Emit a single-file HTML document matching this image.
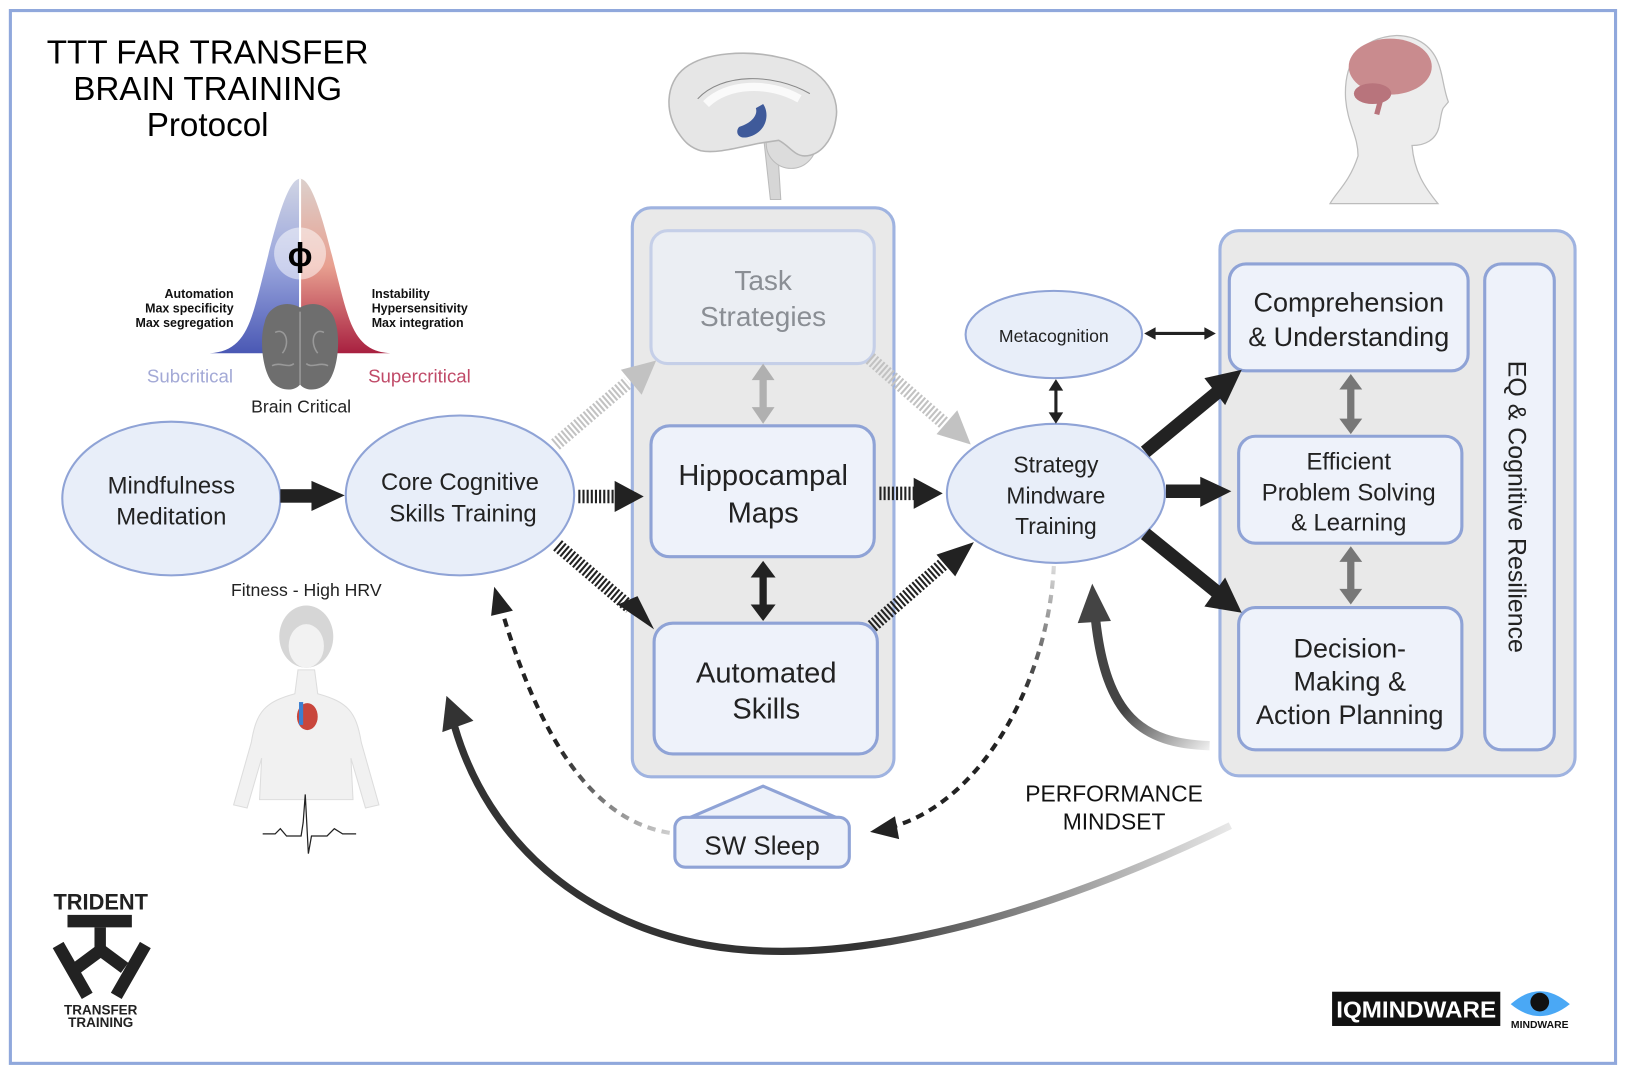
<!DOCTYPE html>
<html><head><meta charset="utf-8"><style>
html,body{margin:0;padding:0;background:#fff;}
svg{display:block;}
text{font-family:"Liberation Sans","DejaVu Sans",sans-serif;}
</style></head><body>
<svg width="1628" height="1076" viewBox="0 0 1568 1036" xmlns="http://www.w3.org/2000/svg">
<defs>
<linearGradient id="bl" x1="0" y1="0" x2="0" y2="1"><stop offset="0" stop-color="#d0d4e4"/><stop offset="0.5" stop-color="#98a4dc"/><stop offset="1" stop-color="#4a58b4"/></linearGradient>
<linearGradient id="rd" x1="0" y1="0" x2="0" y2="1"><stop offset="0" stop-color="#dcd0cc"/><stop offset="0.5" stop-color="#e8a090"/><stop offset="1" stop-color="#a82040"/></linearGradient>
<linearGradient id="cv1" gradientUnits="userSpaceOnUse" x1="1185" y1="795" x2="430" y2="700"><stop offset="0" stop-color="#e8e8e8"/><stop offset="0.45" stop-color="#333"/><stop offset="1" stop-color="#333"/></linearGradient>
<linearGradient id="cv2" gradientUnits="userSpaceOnUse" x1="1165" y1="720" x2="1050" y2="600"><stop offset="0" stop-color="#eee"/><stop offset="0.5" stop-color="#444"/><stop offset="1" stop-color="#444"/></linearGradient>
<linearGradient id="dsh" gradientUnits="userSpaceOnUse" x1="645" y1="800" x2="475" y2="600"><stop offset="0" stop-color="#ccc"/><stop offset="0.5" stop-color="#222"/></linearGradient>
<linearGradient id="dsh2" gradientUnits="userSpaceOnUse" x1="1017" y1="545" x2="840" y2="800"><stop offset="0" stop-color="#ddd"/><stop offset="0.4" stop-color="#222"/></linearGradient>
</defs>
<rect x="10" y="10" width="1546" height="1014" fill="#fff" stroke="#90a8dc" stroke-width="3"/>

<g font-size="32" text-anchor="middle" fill="#000">
<text x="200" y="61">TTT FAR TRANSFER</text>
<text x="200" y="96">BRAIN TRAINING</text>
<text x="200" y="131">Protocol</text>
</g>

<!-- bell curve -->
<path d="M202,340 C225,339 236,326 244,300 C256,262 272,172 289,172 L289,340 Z" fill="url(#bl)"/>
<path d="M376,340 C353,339 342,326 334,300 C322,262 306,172 289,172 L289,340 Z" fill="url(#rd)"/>
<line x1="289" y1="172" x2="289" y2="340" stroke="#fff" stroke-width="2"/>
<circle cx="289" cy="244" r="25" fill="#fff" opacity="0.5"/>
<text x="289" y="256" font-size="32" text-anchor="middle" font-weight="bold">ϕ</text>
<path d="M289,296 C275,288 258,295 255,310 C250,325 252,355 262,368 C272,378 285,376 289,370 C293,376 306,378 316,368 C326,355 328,325 323,310 C320,295 303,288 289,296 Z" fill="#6e6e6e"/>
<path d="M289,300 L289,370 M265,320 C275,315 280,330 272,340 M312,320 C302,315 298,330 306,340 M262,352 C270,348 278,355 283,350 M316,352 C308,348 300,355 295,350" stroke="#999" stroke-width="1.5" fill="none"/>
<g font-size="12" font-weight="bold" fill="#111">
<text x="225" y="287" text-anchor="end">Automation</text>
<text x="225" y="301" text-anchor="end">Max specificity</text>
<text x="225" y="315" text-anchor="end">Max segregation</text>
<text x="358" y="287">Instability</text>
<text x="358" y="301">Hypersensitivity</text>
<text x="358" y="315">Max integration</text>
</g>
<text x="183" y="368" font-size="18" text-anchor="middle" fill="#a3a9d6">Subcritical</text>
<text x="404" y="368" font-size="18" text-anchor="middle" fill="#c04a68">Supercritical</text>
<text x="290" y="397" font-size="17" text-anchor="middle" fill="#222">Brain Critical</text>

<!-- top brain -->
<path d="M735,128 L742,192 L752,192 L748,128 Z" fill="#d6d6d6" stroke="#bbb"/>
<circle cx="762" cy="138" r="24" fill="#dcdcdc" stroke="#bbb"/>
<path d="M655,130 C640,110 640,80 660,65 C680,50 720,48 750,55 C790,62 810,90 805,115 C802,135 790,150 775,150 C765,150 760,140 750,135 L730,138 C710,142 690,148 675,145 C665,142 660,137 655,130 Z" fill="#e6e6e6" stroke="#b5b5b5" stroke-width="1.5"/>
<path d="M680,100 C700,80 740,78 770,95" stroke="#fafafa" stroke-width="8" fill="none"/>
<path d="M672,95 C695,70 745,70 780,90" stroke="#888" stroke-width="1" fill="none"/>
<path d="M735,100 C742,110 738,128 720,132 C710,134 708,126 712,122 C725,118 730,110 728,104 Z" fill="#3f5a9a"/>

<!-- head -->
<path d="M1345,34 C1310,36 1294,60 1296,95 C1298,120 1308,130 1308,150 C1300,175 1287,185 1281,196 L1385,196 C1372,180 1362,165 1360,140 C1372,140 1383,135 1386,122 C1388,112 1388,108 1390,104 L1395,98 C1390,85 1390,72 1385,60 C1378,42 1362,34 1345,34 Z" fill="#ededed" stroke="#bcbcbc" stroke-width="1.2"/>
<ellipse cx="1339" cy="64" rx="40" ry="27" fill="#c98b8e"/>
<ellipse cx="1322" cy="90" rx="18" ry="10" fill="#b8747c"/>
<path d="M1330,95 L1326,110" stroke="#b8747c" stroke-width="5"/>

<!-- woman -->
<ellipse cx="295" cy="613" rx="26" ry="30" fill="#d6d6d6"/>
<ellipse cx="295" cy="622" rx="17" ry="21" fill="#f2f2f2"/>
<path d="M287,645 L303,645 L306,668 C335,676 343,685 348,715 L365,775 L352,778 L338,730 L340,770 L250,770 L252,730 L238,778 L225,775 L242,715 C247,685 255,676 284,668 Z" fill="#f1f1f1" stroke="#ddd"/>
<ellipse cx="296" cy="690" rx="10" ry="13" fill="#c9463c"/>
<rect x="288" y="676" width="4" height="22" fill="#3d7fd0"/>
<path d="M253,803 L265,803 L270,798 L276,805 L290,805 L292,792 L294,765 L297,822 L300,805 L315,805 L322,798 L330,803 L343,803" stroke="#222" stroke-width="1.2" fill="none"/>
<text x="295" y="574" font-size="17" text-anchor="middle" fill="#222">Fitness - High HRV</text>

<!-- trident logo -->
<text x="97" y="876" font-size="21" font-weight="bold" text-anchor="middle" fill="#222">TRIDENT</text>
<rect x="65" y="881" width="62" height="12" fill="#222"/>
<rect x="91" y="893" width="11" height="24" fill="#222"/>
<path d="M97,915 L74,932 M97,915 L120,932" stroke="#222" stroke-width="12"/>
<path d="M56,910 L84,959 M140,910 L112,959" stroke="#222" stroke-width="12"/>
<text x="97" y="977" font-size="13" font-weight="bold" text-anchor="middle" fill="#222">TRANSFER</text>
<text x="97" y="989" font-size="13" font-weight="bold" text-anchor="middle" fill="#222">TRAINING</text>

<!-- IQ logo -->
<rect x="1283" y="955" width="162" height="33" fill="#111"/>
<text x="1287" y="980" font-size="22" font-weight="bold" fill="#fff" textLength="154" lengthAdjust="spacingAndGlyphs">IQMINDWARE</text>
<path d="M1455,967 Q1483,942 1512,967 Q1483,990 1455,967 Z" fill="#4aa8f5"/>
<circle cx="1483" cy="965" r="9" fill="#111"/>
<text x="1483" y="990" font-size="10" font-weight="bold" text-anchor="middle" fill="#111">MINDWARE</text>

<!-- containers -->
<rect x="609" y="200" width="252" height="548" rx="18" fill="#e9e9e9" stroke="#9fb3e0" stroke-width="3"/>
<rect x="1175" y="222" width="342" height="525" rx="18" fill="#e9e9e9" stroke="#9fb3e0" stroke-width="3"/>

<g stroke="#8fa3d6" stroke-width="3" fill="#eef2fa">
<rect x="627" y="222" width="215" height="128" rx="16" fill="#ebeef3" stroke="#c5cfe8"/>
<rect x="627" y="410" width="215" height="126" rx="18"/>
<rect x="630" y="600" width="215" height="126" rx="18"/>
<rect x="1184" y="254" width="230" height="103" rx="16"/>
<rect x="1193" y="420" width="215" height="103" rx="16"/>
<rect x="1193" y="585" width="215" height="137" rx="16"/>
<rect x="1430" y="254" width="67" height="468" rx="16"/>
<path d="M665,787 L735,757 L805,787 Z"/>
<rect x="650" y="787" width="168" height="48" rx="10"/>
</g>
<g stroke="#8fa3d6" stroke-width="2" fill="#e8eef9">
<ellipse cx="165" cy="480" rx="105" ry="74"/>
<ellipse cx="443" cy="477" rx="110" ry="77"/>
<ellipse cx="1015" cy="322" rx="85" ry="42"/>
<ellipse cx="1017" cy="475" rx="105" ry="67"/>
</g>

<g text-anchor="middle" fill="#222">
<text x="735" y="279" font-size="27" fill="#8a8e94">Task</text>
<text x="735" y="314" font-size="27" fill="#8a8e94">Strategies</text>
<text x="735" y="467" font-size="28">Hippocampal</text>
<text x="735" y="503" font-size="28">Maps</text>
<text x="738" y="657" font-size="28">Automated</text>
<text x="738" y="692" font-size="28">Skills</text>
<text x="734" y="823" font-size="25">SW Sleep</text>
<text x="165" y="475" font-size="23">Mindfulness</text>
<text x="165" y="505" font-size="23">Meditation</text>
<text x="443" y="472" font-size="23">Core Cognitive</text>
<text x="446" y="502" font-size="23">Skills Training</text>
<text x="1015" y="329" font-size="17">Metacognition</text>
<text x="1017" y="455" font-size="22">Strategy</text>
<text x="1017" y="485" font-size="22">Mindware</text>
<text x="1017" y="514" font-size="22">Training</text>
<text x="1299" y="300" font-size="26">Comprehension</text>
<text x="1299" y="333" font-size="26">&amp; Understanding</text>
<text x="1299" y="452" font-size="23">Efficient</text>
<text x="1299" y="482" font-size="23">Problem Solving</text>
<text x="1299" y="511" font-size="23">&amp; Learning</text>
<text x="1300" y="633" font-size="26">Decision-</text>
<text x="1300" y="665" font-size="26">Making &amp;</text>
<text x="1300" y="697" font-size="26">Action Planning</text>
<text x="1073" y="772" font-size="22" fill="#111">PERFORMANCE</text>
<text x="1073" y="799" font-size="22" fill="#111">MINDSET</text>
<text transform="translate(1453,488) rotate(90)" font-size="24">EQ &amp; Cognitive Resilience</text>
</g>

<g fill="#222" stroke="none">
<rect x="270" y="471" width="32" height="13"/><path d="M300,463 L332,477 L300,492 Z"/>
</g>
<g stroke-dasharray="2,2" stroke-width="13" fill="none">
<line x1="557" y1="478" x2="592" y2="478" stroke="#222"/>
<line x1="847" y1="475" x2="882" y2="475" stroke="#222"/>
<line x1="535" y1="428" x2="605" y2="368" stroke="#c2c2c2"/>
<line x1="838" y1="345" x2="910" y2="408" stroke="#c2c2c2"/>
<line x1="537" y1="525" x2="607" y2="585" stroke="#222"/>
<line x1="840" y1="603" x2="912" y2="540" stroke="#222"/>
</g>
<g fill="#222">
<path d="M592,463 L620,478 L592,493 Z"/>
<path d="M880,460 L908,475 L880,490 Z"/>
<path d="M595,582 L630,606 L614,574 Z"/>
<path d="M902,534 L938,522 L920,555 Z"/>
</g>
<g fill="#c2c2c2">
<path d="M598,356 L632,347 L618,380 Z"/>
<path d="M902,418 L935,428 L922,395 Z"/>
</g>
<g stroke="#222" stroke-width="13">
<line x1="1103" y1="435" x2="1172" y2="378"/>
<line x1="1123" y1="473" x2="1160" y2="473"/>
<line x1="1103" y1="514" x2="1172" y2="570"/>
</g>
<g fill="#222">
<path d="M1160,364 L1196,356 L1180,390 Z"/>
<path d="M1156,459 L1186,473 L1156,488 Z"/>
<path d="M1160,584 L1196,590 L1180,556 Z"/>
</g>
<g stroke-width="7">
<line x1="735" y1="365" x2="735" y2="394" stroke="#b0b0b0"/>
<line x1="1301" y1="373" x2="1301" y2="404" stroke="#777"/>
<line x1="1301" y1="540" x2="1301" y2="568" stroke="#777"/>
<line x1="735" y1="553" x2="735" y2="584" stroke="#222"/>
<line x1="1017" y1="372" x2="1017" y2="400" stroke="#222" stroke-width="3"/>
<line x1="1110" y1="321" x2="1163" y2="321" stroke="#222" stroke-width="3"/>
</g>
<g fill="#b0b0b0"><path d="M724,366 L735,350 L746,366 Z"/><path d="M724,392 L735,408 L746,392 Z"/></g>
<g fill="#777"><path d="M1290,375 L1301,360 L1312,375 Z"/><path d="M1290,403 L1301,418 L1312,403 Z"/>
<path d="M1290,541 L1301,526 L1312,541 Z"/><path d="M1290,567 L1301,582 L1312,567 Z"/></g>
<g fill="#222"><path d="M723,556 L735,540 L747,556 Z"/><path d="M723,582 L735,598 L747,582 Z"/>
<path d="M1010,376 L1017,365 L1024,376 Z"/><path d="M1010,397 L1017,408 L1024,397 Z"/>
<path d="M1113,315 L1102,321 L1113,327 Z"/><path d="M1160,315 L1171,321 L1160,327 Z"/></g>

<path d="M1185,795 C1010,880 820,935 680,910 C560,888 470,810 438,700" stroke="url(#cv1)" stroke-width="7" fill="none"/>
<path d="M426,705 L430,670 L456,694 Z" fill="#333"/>
<path d="M1165,718 C1100,716 1065,690 1055,595" stroke="url(#cv2)" stroke-width="9" fill="none"/>
<path d="M1038,600 L1052,562 L1070,598 Z" fill="#444"/>
<path d="M1015,545 C1010,650 950,770 860,796" stroke="url(#dsh2)" stroke-width="4" stroke-dasharray="8,6" fill="none"/>
<path d="M862,786 L838,801 L866,808 Z" fill="#222"/>
<path d="M645,802 C570,790 520,710 484,590" stroke="url(#dsh)" stroke-width="4" stroke-dasharray="8,6" fill="none"/>
<path d="M473,593 L476,565 L494,588 Z" fill="#222"/>
</svg>
</body></html>
